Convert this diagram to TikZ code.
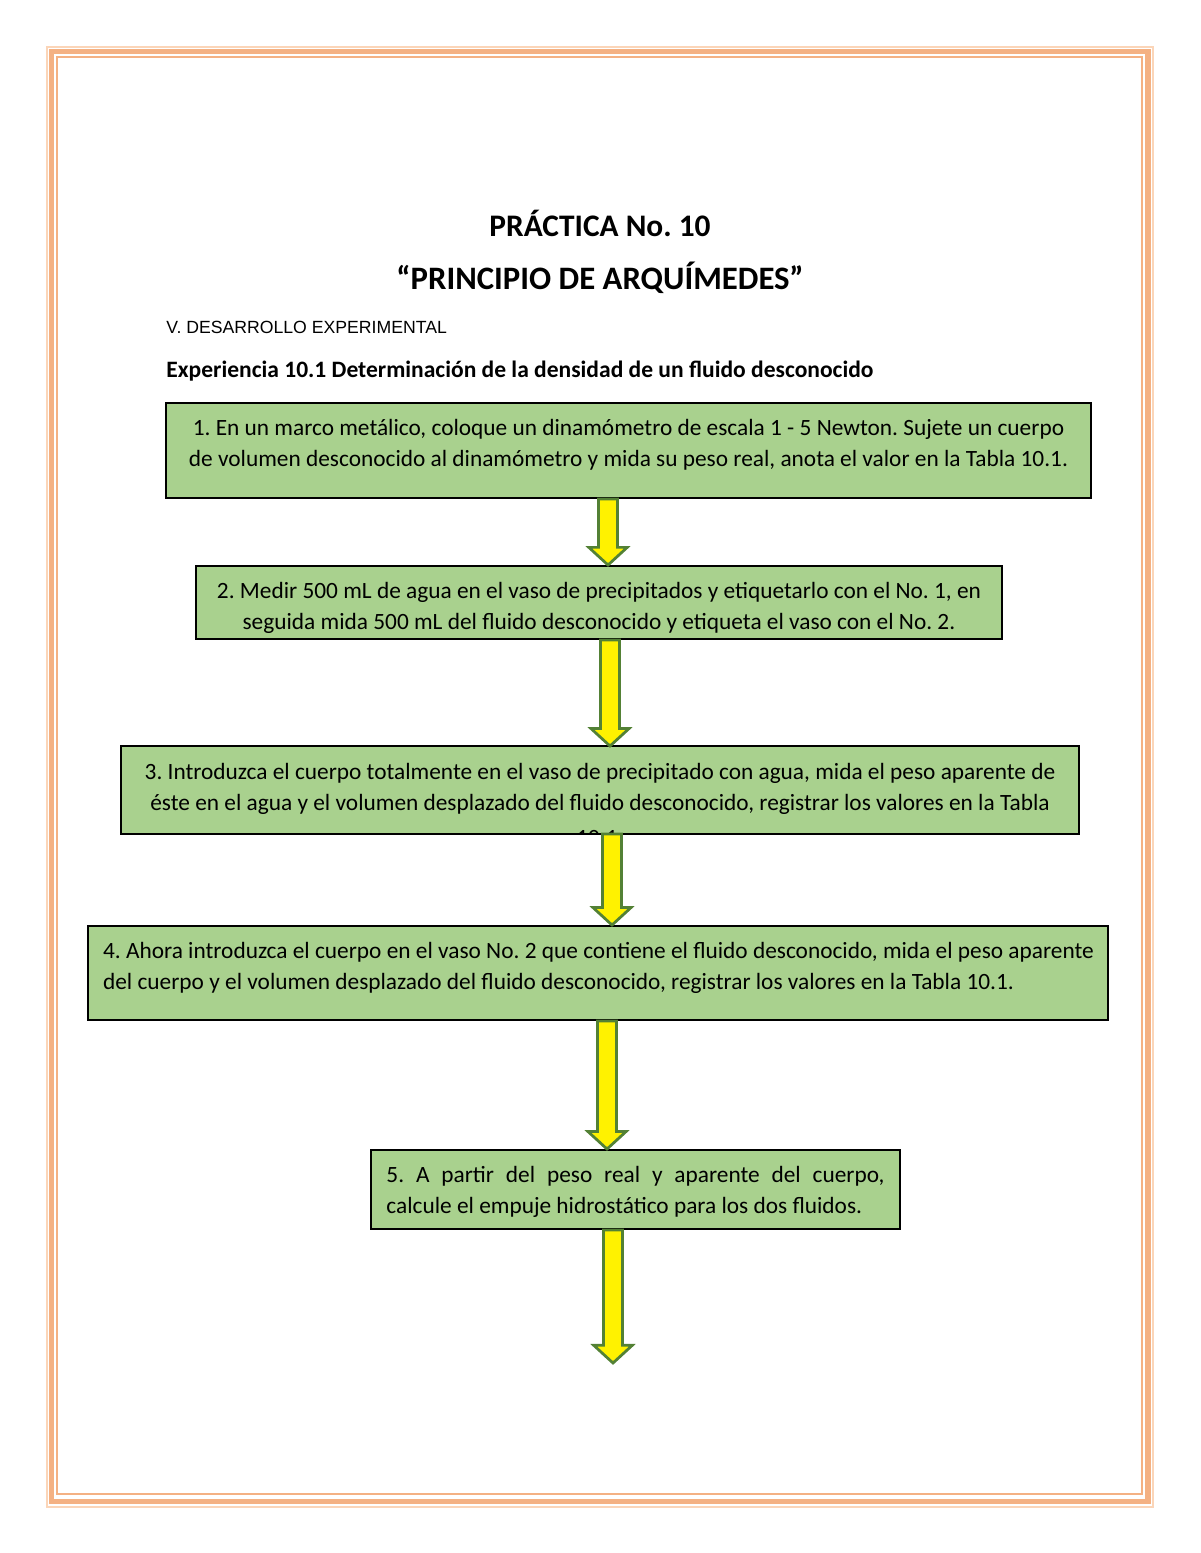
\documentclass[tikz,border=0pt]{standalone}
\usepackage{fontspec}
\setmainfont{Carlito}
\newfontfamily\arialfont{Liberation Sans}
\usetikzlibrary{calc}
\frenchspacing
\definecolor{marco}{HTML}{F4B183}
\definecolor{marcoclaro}{HTML}{FBD5B8}
\definecolor{verdecaja}{HTML}{A9D18E}
\definecolor{verdeborde}{HTML}{538135}
\tikzset{
  caja/.style={draw=black,line width=1pt,fill=verdecaja,rectangle,inner sep=0pt},
  texto/.style={anchor=north,inner sep=0pt,font=\fontsize{11.9}{15.8}\selectfont},
  flecha/.style={draw=verdeborde,fill=yellow,line width=1.4pt,line join=miter},
}
% flecha de bloque: columna, desde (nodo), hasta (ancla)
\newcommand\flecha[3]{%
  \path[flecha] let \p1=(#1 |- #2.south), \p2=(#1 |- #3) in
    (\x1-4.9pt,\y1) -- (\x1+4.9pt,\y1) -- (\x1+4.9pt,\y2+9pt) -- (\x1+9.8pt,\y2+9pt)
    -- (\x1,\y2) -- (\x1-9.8pt,\y2+9pt) -- (\x1-4.9pt,\y2+9pt) -- cycle;}
\begin{document}
\begin{tikzpicture}[x=0.51pt,y=-0.51pt]
   \useasboundingbox (0,0) rectangle (1200,1553);
   %marco de la pagina
   \draw[marcoclaro,line width=1pt] (47,47) rectangle (1153,1507);
   \draw[marco,line width=2.8pt] (51.5,51.5) rectangle (1148,1501.5);
   \draw[marco,line width=1pt] (57,57) rectangle (1142,1494);
   %titulos
   \node[font=\fontsize{16}{19}\selectfont\bfseries] (tit1) at (600,223) {PRÁCTICA No. 10};
   \node[font=\fontsize{16.7}{20}\selectfont\bfseries] (tit2) at (600,278) {“PRINCIPIO DE ARQUÍMEDES”};
   \node[anchor=west,inner sep=0pt,font=\arialfont\fontsize{9}{11}\selectfont] (sec) at (166,327) {V. DESARROLLO EXPERIMENTAL};
   \node[anchor=west,inner sep=0pt,font=\fontsize{12}{14}\selectfont\bfseries] (exp) at (166,371) {Experiencia 10.1 Determinación de la densidad de un fluido desconocido};
   %cajas
   \node[caja,minimum width=925*0.51pt,minimum height=95*0.51pt] (b1) at (628.5,450.5) {};
   \node[caja,minimum width=806*0.51pt,minimum height=73*0.51pt] (b2) at (599,602.5) {};
   \node[caja,draw=none,minimum width=956*0.51pt,minimum height=86*0.51pt] (b3) at (600,790) {};
   \node[caja,minimum width=1020*0.51pt,minimum height=94*0.51pt] (b4) at (598,973) {};
   \node[caja,minimum width=529*0.51pt,minimum height=79*0.51pt] (b5) at (635.5,1189.5) {};
   %textos
   \node[texto,align=center] (t1) at ([yshift=-8.6pt]b1.north) {1. En un marco metálico, coloque un dinamómetro de escala 1 - 5 Newton. Sujete un cuerpo\\de volumen desconocido al dinamómetro y mida su peso real, anota el valor en la Tabla 10.1.};
   \node[texto,align=center] (t2) at ([yshift=-8.6pt]b2.north) {2. Medir 500 mL de agua en el vaso de precipitados y etiquetarlo con el No. 1, en\\seguida mida 500 mL del fluido desconocido y etiqueta el vaso con el No. 2.};
   \begin{scope}
     \clip ([xshift=-0.5pt,yshift=0.5pt]b3.south west) rectangle ([xshift=0.5pt,yshift=-0.5pt]b3.north east);
     \node[texto,align=center] (t3) at ([yshift=-8.6pt]b3.north) {3. Introduzca el cuerpo totalmente en el vaso de precipitado con agua, mida el peso aparente de\\éste en el agua y el volumen desplazado del fluido desconocido, registrar los valores en la Tabla\\[2pt]10.1.};
   \end{scope}
   \draw[black,line width=1pt] (b3.south west) rectangle (b3.north east);
   \node[texto,anchor=north west,align=left] (t4) at ([xshift=8pt,yshift=-8.6pt]b4.north west) {4. Ahora introduzca el cuerpo en el vaso No. 2 que contiene el fluido desconocido, mida el peso aparente\\del cuerpo y el volumen desplazado del fluido desconocido, registrar los valores en la Tabla 10.1.};
   \node[texto,text width=254pt,align=justify] (t5) at ([yshift=-8.6pt]b5.north) {5. A partir del peso real y aparente del cuerpo,\linebreak calcule el empuje hidrostático para los dos fluidos.};
   %flechas
   \coordinate (f1) at (608,0);
   \coordinate (f2) at (610,0);
   \coordinate (f3) at (612,0);
   \coordinate (f4) at (607,0);
   \coordinate (f5) at (613,0);
   \coordinate (fin) at (613,1363);
   \flecha{f1}{b1}{b2.north}
   \flecha{f2}{b2}{b3.north}
   \flecha{f3}{b3}{b4.north}
   \flecha{f4}{b4}{b5.north}
   \flecha{f5}{b5}{fin}
\end{tikzpicture}
\end{document}
